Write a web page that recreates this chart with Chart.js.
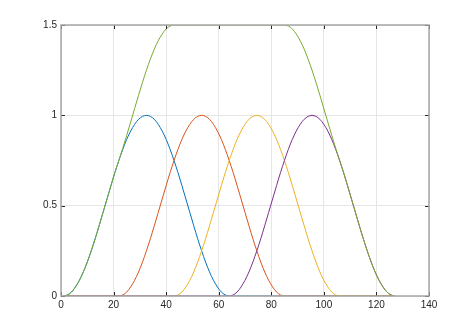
<!DOCTYPE html>
<html>
<head>
<meta charset="utf-8">
<script src="https://cdn.jsdelivr.net/npm/chart.js@4/dist/chart.umd.min.js"></script>
<style>
html,body{margin:0;padding:0;background:#fff;}
#wrap{width:474px;height:333px;position:relative;}
</style>
</head>
<body>
<div id="wrap"><canvas id="c" width="474" height="333"></canvas></div>
<script>
// sample positions (x)
const xs = [1,2.5,4,5.5,7,8.5,10,11.5,13,14.5,16,17.5,19,20.5,22,23.5,25,26.5,28,29.5,31,32.5,34,35.5,37,38.5,40,41.5,43,44.5,46,47.5,49,50.5,52,53.5,55,56.5,58,59.5,61,62.5,64,65.5,67,68.5,70,71.5,73,74.5,76,77.5,79,80.5,82,83.5,85,86.5,88,89.5,91,92.5,94,95.5,97,98.5,100,101.5,103,104.5,106,107.5,109,110.5,112,113.5,115,116.5,118,119.5,121,122.5,124,125.5,127];

const blueVals = [0,0.006,0.022,0.050,0.087,0.133,0.188,0.250,0.317,0.389,0.463,0.537,0.611,0.683,0.750,0.812,0.867,0.913,0.950,0.978,0.994,1.000,0.994,0.978,0.950,0.913,0.867,0.812,0.750,0.683,0.611,0.537,0.463,0.389,0.317,0.250,0.188,0.133,0.087,0.050,0.022,0.006,0,
0,0,0,0,0,0,0,0,0,0,0,0,0,0,0,0,0,0,0,0,0,0,0,0,0,0,0,0,0,0,0,0,0,0,0,0,0,0,0,0,0,0];

const redVals = [0,0,0,0,0,0,0,0,0,0,0,0,0,0,
0,0.006,0.022,0.050,0.087,0.133,0.188,0.250,0.317,0.389,0.463,0.537,0.611,0.683,0.750,0.812,0.867,0.913,0.950,0.978,0.994,1.000,0.994,0.978,0.950,0.913,0.867,0.812,0.750,0.683,0.611,0.537,0.463,0.389,0.317,0.250,0.188,0.133,0.087,0.050,0.022,0.006,0,
0,0,0,0,0,0,0,0,0,0,0,0,0,0,0,0,0,0,0,0,0,0,0,0,0,0,0,0];

const yellowVals = [0,0,0,0,0,0,0,0,0,0,0,0,0,0,0,0,0,0,0,0,0,0,0,0,0,0,0,0,
0,0.006,0.022,0.050,0.087,0.133,0.188,0.250,0.317,0.389,0.463,0.537,0.611,0.683,0.750,0.812,0.867,0.913,0.950,0.978,0.994,1.000,0.994,0.978,0.950,0.913,0.867,0.812,0.750,0.683,0.611,0.537,0.463,0.389,0.317,0.250,0.188,0.133,0.087,0.050,0.022,0.006,0,
0,0,0,0,0,0,0,0,0,0,0,0,0,0];

const purpleVals = [0,0,0,0,0,0,0,0,0,0,0,0,0,0,0,0,0,0,0,0,0,0,0,0,0,0,0,0,0,0,0,0,0,0,0,0,0,0,0,0,0,0,
0,0.006,0.022,0.050,0.087,0.133,0.188,0.250,0.317,0.389,0.463,0.537,0.611,0.683,0.750,0.812,0.867,0.913,0.950,0.978,0.994,1.000,0.994,0.978,0.950,0.913,0.867,0.812,0.750,0.683,0.611,0.537,0.463,0.389,0.317,0.250,0.188,0.133,0.087,0.050,0.022,0.006,0];

const greenVals = [0,0.006,0.022,0.050,0.087,0.133,0.188,0.250,0.317,0.389,0.463,0.537,0.611,0.683,
0.750,0.818,0.889,0.963,1.037,1.111,1.182,1.250,1.311,1.367,1.413,1.450,1.478,1.494,
1.5,1.5,1.5,1.5,1.5,1.5,1.5,1.5,1.5,1.5,1.5,1.5,1.5,1.5,1.5,1.5,1.5,1.5,1.5,1.5,1.5,1.5,1.5,1.5,1.5,1.5,1.5,1.5,1.5,
1.494,1.478,1.450,1.413,1.367,1.311,1.250,1.182,1.111,1.037,0.963,0.889,0.818,0.750,
0.683,0.611,0.537,0.463,0.389,0.317,0.250,0.188,0.133,0.087,0.050,0.022,0.006,0];

const xTicks = [0,20,40,60,80,100,120,140];
const yTicks = [0,0.5,1,1.5];

function pts(vals){ return xs.map((x,i)=>({x:x,y:vals[i]})); }

const series = [
  {vals: blueVals,   color:'#0072BD', order:4},
  {vals: redVals,    color:'#D95319', order:3},
  {vals: yellowVals, color:'#EDB120', order:2},
  {vals: purpleVals, color:'#7E2F8E', order:1},
  {vals: greenVals,  color:'#77AC30', order:0}
];

const FONT = '"Liberation Sans", Arial, sans-serif';

const boxPlugin = {
  id:'box',
  afterDatasetsDraw(chart){
    const ctx = chart.ctx, a = chart.chartArea;
    const xs_ = chart.scales.x, ys_ = chart.scales.y;
    ctx.save();
    // inward ticks
    ctx.strokeStyle = '#262626';
    ctx.lineWidth = 1;
    ctx.beginPath();
    xTicks.forEach(v=>{
      const px = Math.round(xs_.getPixelForValue(v))+0.5;
      ctx.moveTo(px,a.bottom); ctx.lineTo(px,a.bottom-4);
      ctx.moveTo(px,a.top); ctx.lineTo(px,a.top+4);
    });
    yTicks.forEach(v=>{
      const py = Math.round(ys_.getPixelForValue(v))+0.5;
      ctx.moveTo(a.left,py); ctx.lineTo(a.left+4,py);
      ctx.moveTo(a.right,py); ctx.lineTo(a.right-4,py);
    });
    ctx.stroke();
    // box
    ctx.strokeStyle = '#a6a6a6';
    ctx.lineWidth = 1.5;
    ctx.strokeRect(a.left, a.top, a.right-a.left, a.bottom-a.top);
    ctx.restore();
  }
};

new Chart(document.getElementById('c'), {
  type:'line',
  data:{
    datasets: series.map(s=>({
      data: pts(s.vals),
      borderColor: s.color,
      borderWidth: 1,
      pointRadius: 0,
      fill: false,
      tension: 0,
      cubicInterpolationMode: 'monotone',
      order: s.order
    }))
  },
  options:{
    responsive:false,
    animation:false,
    devicePixelRatio:1,
    layout:{padding:{left:0,right:45,top:25,bottom:0}},
    plugins:{legend:{display:false},tooltip:{enabled:false}},
    scales:{
      x:{
        type:'linear', min:0, max:140,
        afterBuildTicks(s){ s.ticks = xTicks.map(v=>({value:v})); },
        afterFit(s){ s.height = 37; },
        grid:{color:'#e6e6e6', lineWidth:1, drawTicks:false},
        border:{display:false},
        ticks:{color:'#262626', font:{family:FONT,size:10}, padding:3, maxRotation:0,
          callback:(v)=>String(v)}
      },
      y:{
        type:'linear', min:0, max:1.5,
        afterBuildTicks(s){ s.ticks = yTicks.map(v=>({value:v})); },
        afterFit(s){ s.width = 61; },
        grid:{color:'#e6e6e6', lineWidth:1, drawTicks:false},
        border:{display:false},
        ticks:{color:'#262626', font:{family:FONT,size:10}, padding:4,
          callback:(v)=>String(v)}
      }
    }
  },
  plugins:[boxPlugin]
});
</script>
</body>
</html>
